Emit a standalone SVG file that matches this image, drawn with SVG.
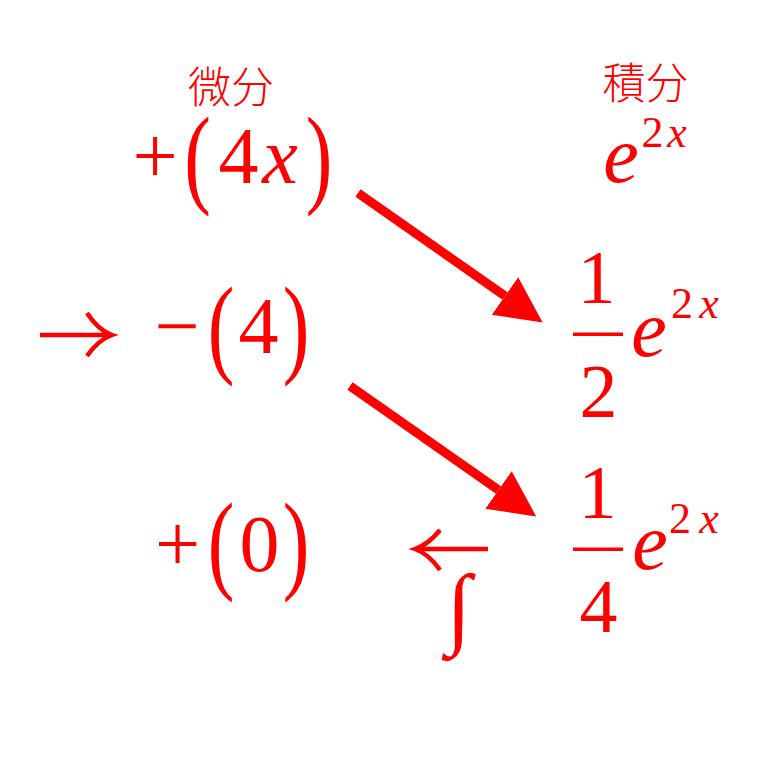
<svg xmlns="http://www.w3.org/2000/svg" width="768" height="768" viewBox="0 0 768 768">
<defs>
<style>
.m{font-family:'Liberation Serif','Tinos','Noto Serif','Nimbus Roman','FreeSerif','Times New Roman',serif;fill:#ff0000;text-anchor:middle}
.b{font-size:80px}
.s{font-size:44px}
.f{font-size:76px}
.i{font-style:italic}
.cjk{font-family:'Noto Sans CJK SC','Noto Sans CJK JP',sans-serif;fill:#ff0000;text-anchor:middle;font-weight:300}
.ln{stroke:#ff0000;fill:none}
</style>
<marker id="ah" markerUnits="userSpaceOnUse" markerWidth="48" markerHeight="48" refX="0" refY="23" orient="auto" viewBox="0 0 48 46">
<path d="M0,0 L46,23 L0,46 z" fill="#ff0000"/>
</marker>
</defs>
<rect width="768" height="768" fill="#ffffff"/>

<g id="diff-head">
<text class="cjk" x="231" y="103" font-size="43">微分</text>
</g>
<g id="int-head">
<text class="cjk" x="645.5" y="99" font-size="43">積分</text>
</g>

<g id="d1">
<text class="m b" x="155" y="183">+</text>
<text class="m b" transform="translate(197.5,192.5) scale(1,1.38)">(</text>
<text class="m b" x="238.5" y="183">4</text>
<text class="m b i" x="280" y="183">x</text>
<text class="m b" transform="translate(319,192.5) scale(1,1.38)">)</text>
</g>

<g id="d2">
<text class="m b" x="177" y="353">−</text>
<text class="m b" transform="translate(221,362.5) scale(1,1.38)">(</text>
<text class="m b" x="258.5" y="353">4</text>
<text class="m b" transform="translate(296,362.5) scale(1,1.38)">)</text>
</g>

<g id="d3">
<text class="m b" x="177.5" y="571">+</text>
<text class="m b" transform="translate(221,578.5) scale(1,1.38)">(</text>
<text class="m b" x="259.5" y="571">0</text>
<text class="m b" transform="translate(296,578.5) scale(1,1.38)">)</text>
</g>

<g id="i1">
<text class="m b i" x="621" y="182">e</text>
<text class="m s" x="652.5" y="147">2</text>
<text class="m s i" x="677" y="147">x</text>
</g>

<g id="i2">
<text class="m f" x="596.5" y="303">1</text>
<rect x="573" y="332.5" width="50" height="3.5" fill="#ff0000"/>
<text class="m f" x="598.5" y="417">2</text>
<text class="m b i" x="649" y="356">e</text>
<text class="m s" x="682" y="318">2</text>
<text class="m s i" x="709" y="318">x</text>
</g>

<g id="i3">
<text class="m f" x="597.5" y="518">1</text>
<rect x="573" y="547.5" width="50" height="3.5" fill="#ff0000"/>
<text class="m f" x="598.5" y="632">4</text>
<text class="m b i" x="650" y="569">e</text>
<text class="m s" x="680" y="533">2</text>
<text class="m s i" x="709" y="533">x</text>
</g>

<g id="int-sign">
<text class="m" x="458.5" y="637" font-size="90">∫</text>
</g>

<g id="connectors">
<line class="ln" x1="358" y1="193" x2="505" y2="296" stroke-width="9" marker-end="url(#ah)"/>
<line class="ln" x1="350" y1="386" x2="498.5" y2="490" stroke-width="9" marker-end="url(#ah)"/>
<path class="ln" d="M40,335 L109,335 M87,313 Q98,330 112,335 Q98,340 87,356" stroke-width="4.5"/>
<path class="ln" d="M488,549 L418,549 M440,530 Q429,544 415,549 Q429,554 440,570" stroke-width="4.5"/>
</g>
</svg>
